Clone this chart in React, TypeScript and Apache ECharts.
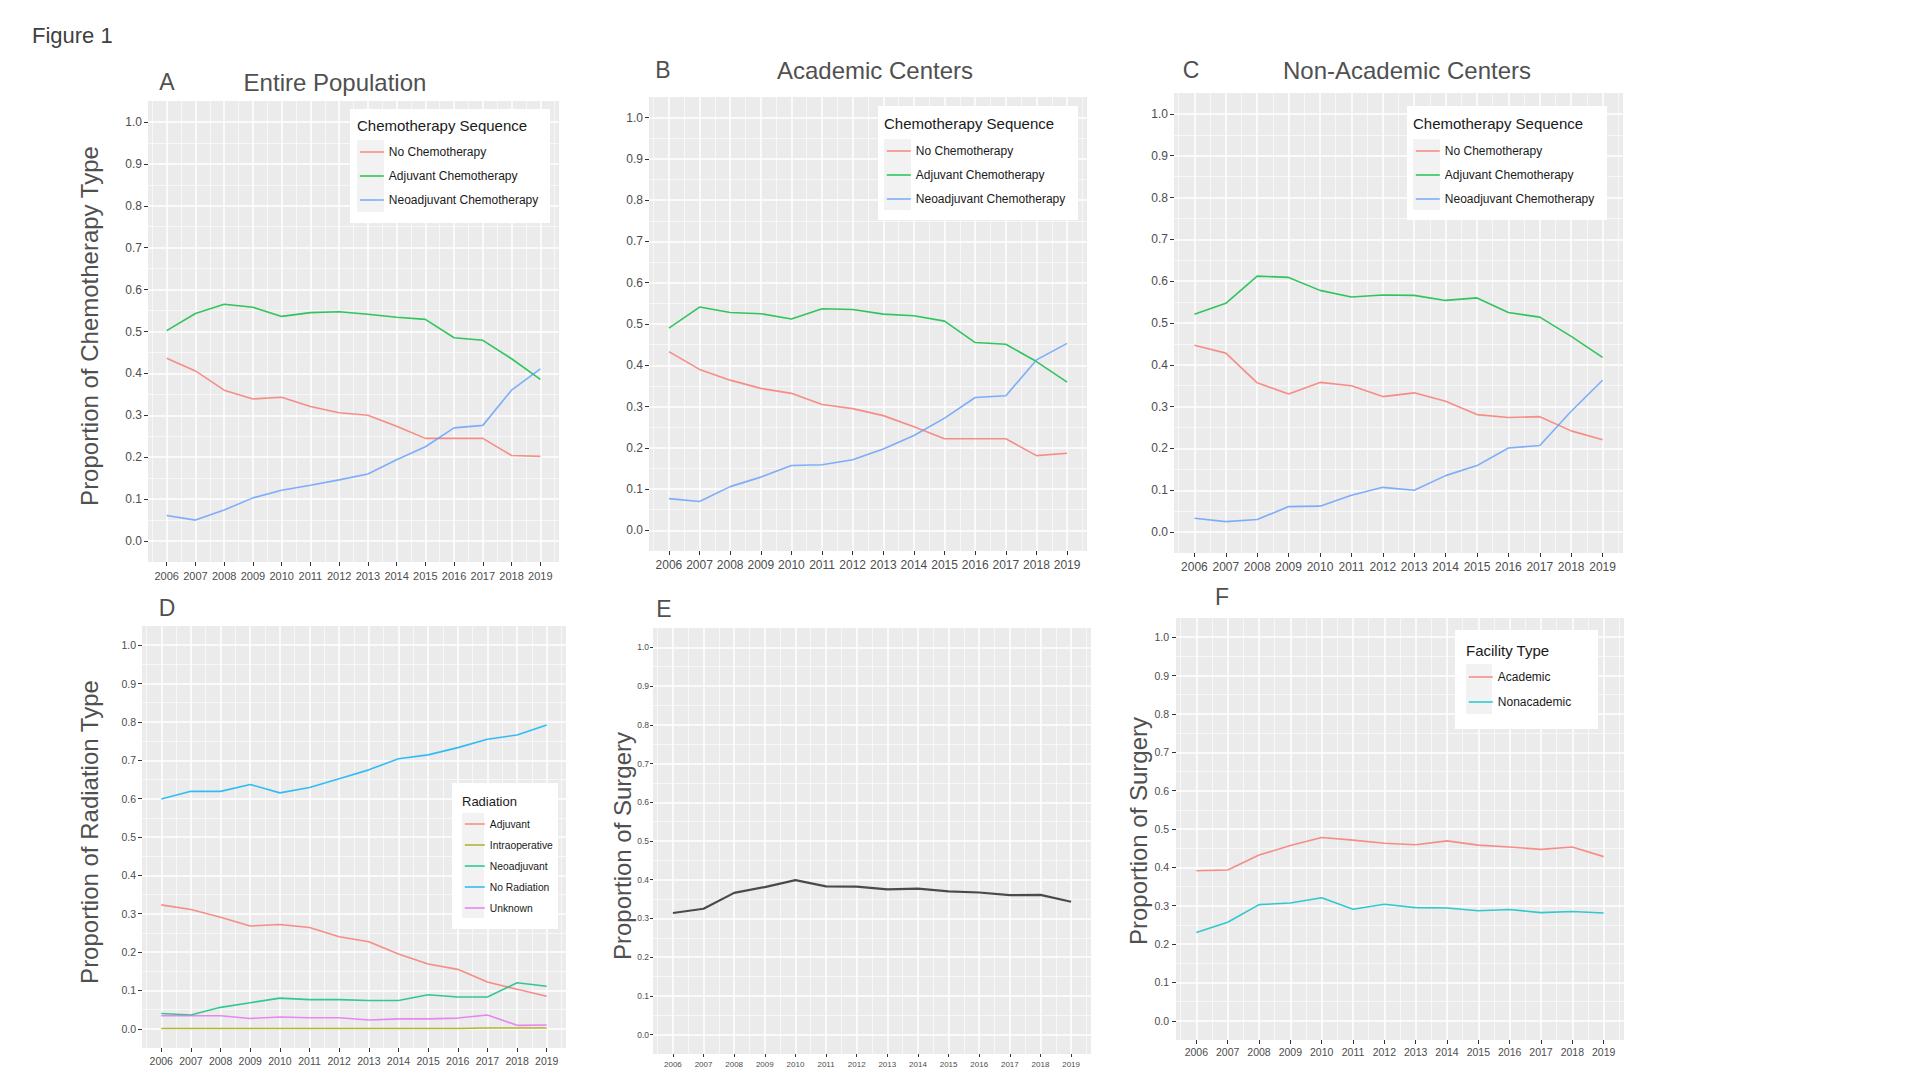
import { useEffect, useRef } from 'react';
import * as echarts from 'echarts';

const FONT = '"Liberation Sans", Arial, Helvetica, sans-serif';

// ---- categories / ticks ----
const years = [2006, 2007, 2008, 2009, 2010, 2011, 2012, 2013, 2014, 2015, 2016, 2017, 2018, 2019];
const xMinorBreaks = [2005.5, 2006.5, 2007.5, 2008.5, 2009.5, 2010.5, 2011.5, 2012.5, 2013.5, 2014.5, 2015.5, 2016.5, 2017.5, 2018.5, 2019.5];
const yTicks = [0, 0.1, 0.2, 0.3, 0.4, 0.5, 0.6, 0.7, 0.8, 0.9, 1.0];
const yMinorBreaks = [0.05, 0.15, 0.25, 0.35, 0.45, 0.55, 0.65, 0.75, 0.85, 0.95];

// ---- Panel A: Entire Population ----
const aNoChemo = [0.436, 0.406, 0.360, 0.339, 0.343, 0.321, 0.306, 0.300, 0.274, 0.245, 0.245, 0.245, 0.204, 0.202];
const aAdjuvant = [0.502, 0.543, 0.565, 0.558, 0.536, 0.545, 0.547, 0.541, 0.534, 0.529, 0.485, 0.479, 0.435, 0.386];
const aNeoadjuvant = [0.061, 0.050, 0.074, 0.103, 0.121, 0.133, 0.146, 0.160, 0.194, 0.225, 0.270, 0.276, 0.360, 0.411];

// ---- Panel B: Academic Centers ----
const bNoChemo = [0.433, 0.390, 0.364, 0.344, 0.332, 0.305, 0.295, 0.278, 0.251, 0.222, 0.222, 0.222, 0.181, 0.187];
const bAdjuvant = [0.490, 0.541, 0.528, 0.525, 0.512, 0.537, 0.535, 0.524, 0.520, 0.507, 0.455, 0.451, 0.409, 0.359];
const bNeoadjuvant = [0.077, 0.070, 0.106, 0.129, 0.157, 0.159, 0.171, 0.197, 0.230, 0.272, 0.322, 0.326, 0.413, 0.453];

// ---- Panel C: Non-Academic Centers ----
const cNoChemo = [0.447, 0.428, 0.357, 0.330, 0.358, 0.350, 0.324, 0.333, 0.313, 0.281, 0.274, 0.276, 0.242, 0.221];
const cAdjuvant = [0.521, 0.547, 0.612, 0.609, 0.578, 0.562, 0.567, 0.566, 0.554, 0.560, 0.525, 0.514, 0.468, 0.418];
const cNeoadjuvant = [0.033, 0.025, 0.030, 0.061, 0.062, 0.088, 0.107, 0.100, 0.135, 0.159, 0.201, 0.207, 0.289, 0.363];

// ---- Panel D: Radiation ----
const dAdjuvant = [0.323, 0.311, 0.291, 0.268, 0.272, 0.264, 0.240, 0.227, 0.195, 0.169, 0.155, 0.122, 0.103, 0.085];
const dIntraoperative = [0.001, 0.001, 0.001, 0.001, 0.001, 0.001, 0.001, 0.001, 0.001, 0.001, 0.001, 0.002, 0.002, 0.002];
const dNeoadjuvant = [0.040, 0.036, 0.056, 0.068, 0.080, 0.076, 0.076, 0.074, 0.074, 0.089, 0.083, 0.083, 0.120, 0.111];
const dNoRadiation = [0.599, 0.619, 0.619, 0.637, 0.615, 0.629, 0.652, 0.675, 0.704, 0.714, 0.733, 0.755, 0.766, 0.792];
const dUnknown = [0.034, 0.034, 0.034, 0.027, 0.031, 0.029, 0.029, 0.023, 0.026, 0.026, 0.028, 0.036, 0.009, 0.010];

// ---- Panel E: Surgery ----
const eSurgery = [0.314, 0.325, 0.366, 0.381, 0.399, 0.383, 0.382, 0.375, 0.377, 0.370, 0.367, 0.360, 0.361, 0.343];

// ---- Panel F: Surgery by facility ----
const fAcademic = [0.391, 0.393, 0.432, 0.457, 0.478, 0.471, 0.463, 0.459, 0.469, 0.458, 0.453, 0.447, 0.453, 0.428];
const fNonacademic = [0.230, 0.257, 0.303, 0.307, 0.321, 0.291, 0.304, 0.295, 0.294, 0.287, 0.290, 0.282, 0.285, 0.281];

const chemoNames = ['No Chemotherapy', 'Adjuvant Chemotherapy', 'Neoadjuvant Chemotherapy'];
const radiationNames = ['Adjuvant', 'Intraoperative', 'Neoadjuvant', 'No Radiation', 'Unknown'];
const facilityNames = ['Academic', 'Nonacademic'];

const RED = '#F8766D';
const GREEN = '#00BA38';
const BLUE = '#619CFF';

type Panel = {
  left: number; top: number; width: number; height: number;
  xFont: number; yFont: number; xMargin: number; yMargin: number; tickLen: number;
  series: { name: string; data: number[]; color: string; width: number; opacity: number }[];
};

const panels: Panel[] = [
  {
    left: 148, top: 101, width: 411, height: 461, xFont: 11, yFont: 12, xMargin: 8, yMargin: 6, tickLen: 4,
    series: [
      { name: chemoNames[0], data: aNoChemo, color: RED, width: 1.6, opacity: 0.8 },
      { name: chemoNames[1], data: aAdjuvant, color: GREEN, width: 1.6, opacity: 0.8 },
      { name: chemoNames[2], data: aNeoadjuvant, color: BLUE, width: 1.6, opacity: 0.8 },
    ],
  },
  {
    left: 649, top: 97, width: 438, height: 454, xFont: 12, yFont: 12, xMargin: 8, yMargin: 6, tickLen: 4,
    series: [
      { name: chemoNames[0], data: bNoChemo, color: RED, width: 1.6, opacity: 0.8 },
      { name: chemoNames[1], data: bAdjuvant, color: GREEN, width: 1.6, opacity: 0.8 },
      { name: chemoNames[2], data: bNeoadjuvant, color: BLUE, width: 1.6, opacity: 0.8 },
    ],
  },
  {
    left: 1174, top: 93, width: 449, height: 460, xFont: 12, yFont: 12, xMargin: 8, yMargin: 6, tickLen: 4,
    series: [
      { name: chemoNames[0], data: cNoChemo, color: RED, width: 1.6, opacity: 0.8 },
      { name: chemoNames[1], data: cAdjuvant, color: GREEN, width: 1.6, opacity: 0.8 },
      { name: chemoNames[2], data: cNeoadjuvant, color: BLUE, width: 1.6, opacity: 0.8 },
    ],
  },
  {
    left: 142, top: 626, width: 424, height: 422, xFont: 10.5, yFont: 10.5, xMargin: 7, yMargin: 6, tickLen: 4,
    series: [
      { name: radiationNames[0], data: dAdjuvant, color: '#F8766D', width: 1.6, opacity: 0.8 },
      { name: radiationNames[1], data: dIntraoperative, color: '#A3A500', width: 1.6, opacity: 0.8 },
      { name: radiationNames[2], data: dNeoadjuvant, color: '#00BF7D', width: 1.6, opacity: 0.8 },
      { name: radiationNames[3], data: dNoRadiation, color: '#00B0F6', width: 1.6, opacity: 0.8 },
      { name: radiationNames[4], data: dUnknown, color: '#E76BF3', width: 1.6, opacity: 0.8 },
    ],
  },
  {
    left: 653, top: 628, width: 438, height: 426, xFont: 8, yFont: 8.5, xMargin: 6, yMargin: 4, tickLen: 3,
    series: [
      { name: 'Surgery', data: eSurgery, color: '#4a4a4a', width: 2.2, opacity: 1 },
    ],
  },
  {
    left: 1176, top: 618, width: 448, height: 422, xFont: 10.5, yFont: 10.5, xMargin: 6, yMargin: 7, tickLen: 4,
    series: [
      { name: facilityNames[0], data: fAcademic, color: '#F8766D', width: 1.6, opacity: 0.8 },
      { name: facilityNames[1], data: fNonacademic, color: '#00BFC4', width: 1.6, opacity: 0.8 },
    ],
  },
];

const X_MIN = 2005.35;
const X_MAX = 2019.65;
const Y_MIN = -0.05;
const Y_MAX = 1.05;

function buildOption() {
  const grids: any[] = [];
  const xAxes: any[] = [];
  const yAxes: any[] = [];
  const series: any[] = [];

  panels.forEach((p, i) => {
    grids.push({
      left: p.left, top: p.top, width: p.width, height: p.height,
      show: true, backgroundColor: '#EBEBEB', borderWidth: 0, containLabel: false,
      outerBoundsMode: 'none',
    });
    // major x
    xAxes.push({
      type: 'value', gridIndex: i, min: X_MIN, max: X_MAX, position: 'bottom',
      axisLine: { show: false, onZero: false },
      axisTick: { show: true, length: p.tickLen, lineStyle: { color: '#333333', width: 1 }, customValues: years },
      axisLabel: {
        customValues: years, formatter: (v: number) => String(Math.round(v)),
        fontSize: p.xFont, color: '#4D4D4D', margin: p.xMargin, fontFamily: FONT,
      },
      splitLine: { show: true, lineStyle: { color: '#FFFFFF', width: 1.5 } },
    });
    // minor x
    xAxes.push({
      type: 'value', gridIndex: i, min: X_MIN, max: X_MAX, position: 'bottom',
      axisLine: { show: false, onZero: false },
      axisTick: { show: false, customValues: xMinorBreaks },
      axisLabel: { show: false },
      splitLine: { show: true, lineStyle: { color: '#FFFFFF', width: 0.7, opacity: 0.85 } },
    });
    // major y
    yAxes.push({
      type: 'value', gridIndex: i, min: Y_MIN, max: Y_MAX, position: 'left',
      axisLine: { show: false, onZero: false },
      axisTick: { show: true, length: p.tickLen, lineStyle: { color: '#333333', width: 1 }, customValues: yTicks },
      axisLabel: {
        customValues: yTicks, formatter: (v: number) => v.toFixed(1),
        fontSize: p.yFont, color: '#4D4D4D', margin: p.yMargin, fontFamily: FONT,
      },
      splitLine: { show: true, lineStyle: { color: '#FFFFFF', width: 1.5 } },
    });
    // minor y
    yAxes.push({
      type: 'value', gridIndex: i, min: Y_MIN, max: Y_MAX, position: 'left',
      axisLine: { show: false, onZero: false },
      axisTick: { show: false, customValues: yMinorBreaks },
      axisLabel: { show: false },
      splitLine: { show: true, lineStyle: { color: '#FFFFFF', width: 0.7, opacity: 0.85 } },
    });
    p.series.forEach((s) => {
      series.push({
        type: 'line', name: s.name, xAxisIndex: 2 * i, yAxisIndex: 2 * i,
        data: years.map((yr, k) => [yr, s.data[k]]),
        symbol: 'none', showSymbol: false,
        lineStyle: { color: s.color, width: s.width, opacity: s.opacity },
        itemStyle: { color: s.color },
        emphasis: { disabled: true },
        z: 3,
      });
    });
  });

  // Legends (ggplot-like boxes are graphic rects behind)
  const legendDefs = [
    { names: chemoNames, box: [350, 109, 200, 114], title: 'Chemotherapy Sequence', titleXY: [357, 125], titleFont: 15, key: [357, 140, 27, 72], firstItem: 152, gap: 24, itemFont: 12, itemW: 24 },
    { names: chemoNames, box: [878, 106, 200, 114], title: 'Chemotherapy Sequence', titleXY: [884, 123], titleFont: 15, key: [884, 139, 27, 71], firstItem: 151, gap: 24, itemFont: 12, itemW: 24 },
    { names: chemoNames, box: [1407, 106, 200, 114], title: 'Chemotherapy Sequence', titleXY: [1413, 123], titleFont: 15, key: [1413, 139, 27, 71], firstItem: 151, gap: 24, itemFont: 12, itemW: 24 },
    { names: radiationNames, box: [452, 783, 106, 146], title: 'Radiation', titleXY: [462, 801], titleFont: 13, key: [462, 813, 22, 105], firstItem: 824, gap: 21, itemFont: 10.3, itemW: 20 },
    { names: facilityNames, box: [1455, 630, 143, 99], title: 'Facility Type', titleXY: [1466, 650], titleFont: 15, key: [1466, 664, 26, 50], firstItem: 677, gap: 25, itemFont: 12, itemW: 24 },
  ];

  const legends: any[] = [];
  const graphics: any[] = [];

  legendDefs.forEach((L) => {
    const ih = 14;
    legends.push({
      data: L.names,
      orient: 'vertical',
      left: L.key[0] + 2,
      top: L.firstItem - ih / 2,
      itemWidth: L.itemW,
      itemHeight: ih,
      itemGap: L.gap - ih,
      padding: 0,
      selectedMode: false,
      itemStyle: { opacity: 0 },
      lineStyle: { width: 1.6, opacity: 0.8 },
      textStyle: { fontSize: L.itemFont, color: '#1A1A1A', fontFamily: FONT, lineHeight: ih },
      z: 12,
    });
    graphics.push({
      type: 'rect', z: 9,
      shape: { x: L.box[0], y: L.box[1], width: L.box[2], height: L.box[3] },
      style: { fill: '#FFFFFF' },
    });
    graphics.push({
      type: 'rect', z: 10,
      shape: { x: L.key[0], y: L.key[1], width: L.key[2], height: L.key[3] },
      style: { fill: '#F2F2F2' },
    });
    graphics.push({
      type: 'text', z: 11, x: L.titleXY[0], y: L.titleXY[1],
      style: {
        text: L.title, fill: '#1A1A1A', font: `${L.titleFont}px ${FONT}`,
        textAlign: 'left', textVerticalAlign: 'middle', align: 'left', verticalAlign: 'middle',
      },
    });
  });

  const textEl = (text: string, x: number, y: number, size: number, align: string, color: string, rotation = 0) => ({
    type: 'text', z: 11, x, y, rotation,
    style: {
      text, fill: color, font: `${size}px ${FONT}`,
      textAlign: align, textVerticalAlign: 'middle', align, verticalAlign: 'middle',
    },
  });

  const TITLE = '#505050';
  graphics.push(textEl('Figure 1', 32, 35, 22, 'left', '#404040'));
  graphics.push(textEl('A', 167, 82, 23, 'center', TITLE));
  graphics.push(textEl('Entire Population', 335, 82, 24, 'center', TITLE));
  graphics.push(textEl('B', 663, 70, 23, 'center', TITLE));
  graphics.push(textEl('Academic Centers', 875, 70, 24, 'center', TITLE));
  graphics.push(textEl('C', 1191, 70, 23, 'center', TITLE));
  graphics.push(textEl('Non-Academic Centers', 1407, 70, 24, 'center', TITLE));
  graphics.push(textEl('D', 167, 608, 23, 'center', TITLE));
  graphics.push(textEl('E', 664, 609, 23, 'center', TITLE));
  graphics.push(textEl('F', 1222, 597, 23, 'center', TITLE));
  graphics.push(textEl('Proportion of Chemotherapy Type', 89, 326, 24, 'center', TITLE, Math.PI / 2));
  graphics.push(textEl('Proportion of Radiation Type', 89, 832, 24, 'center', TITLE, Math.PI / 2));
  graphics.push(textEl('Proportion of Surgery', 622, 846, 24, 'center', TITLE, Math.PI / 2));
  graphics.push(textEl('Proportion of Surgery', 1138, 831, 24, 'center', TITLE, Math.PI / 2));

  return {
    animation: false,
    backgroundColor: '#FFFFFF',
    textStyle: { fontFamily: FONT },
    grid: grids,
    xAxis: xAxes,
    yAxis: yAxes,
    legend: legends,
    graphic: { elements: graphics },
    series,
  };
}

export default function App() {
  const ref = useRef<HTMLDivElement>(null);
  useEffect(() => {
    if (!ref.current) return;
    const chart = echarts.init(ref.current, undefined, { renderer: 'svg' });
    chart.setOption(buildOption() as any);
    return () => chart.dispose();
  }, []);
  return (
    <div
      ref={ref}
      style={{ position: 'fixed', left: 0, top: 0, width: 1920, height: 1080, background: '#FFFFFF' }}
    />
  );
}
